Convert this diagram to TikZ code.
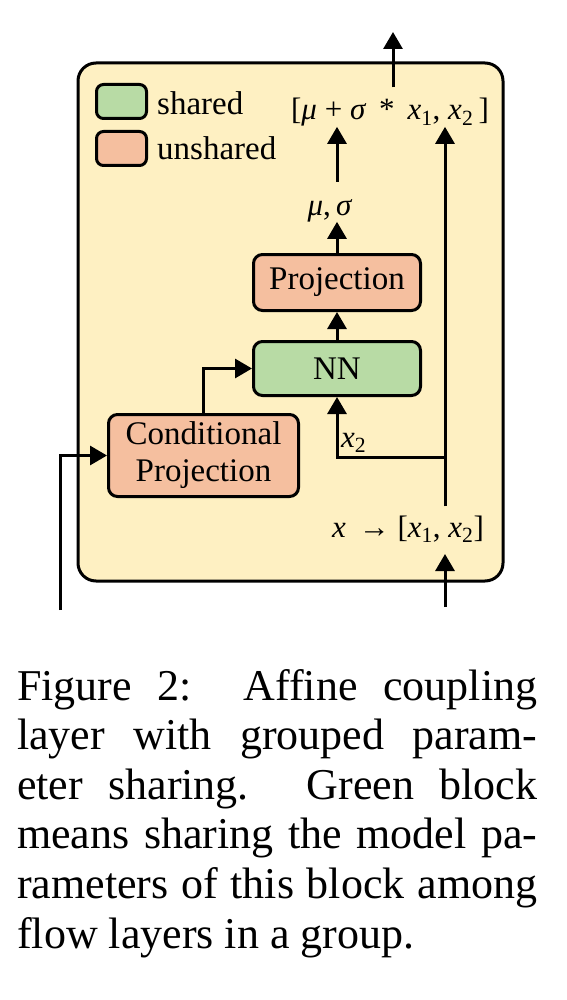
\documentclass[tikz,border=0pt]{standalone}
\usepackage{fontspec}
\setmainfont{Liberation Serif}
\usetikzlibrary{arrows.meta}
\definecolor{bgy}{HTML}{FEF0C2}
\definecolor{shg}{HTML}{B8DBA5}
\definecolor{uso}{HTML}{F5BF9F}
\begin{document}
\begin{tikzpicture}[x=1pt,y=-1pt,
  blk/.style={draw, line width=3pt, rounded corners=9pt, inner sep=0pt, font=\fontsize{33}{37}\selectfont, align=center},
  arr/.style={line width=3pt, -{Triangle[length=17pt,width=19pt]}},
  lab/.style={inner sep=0pt, font=\fontsize{33}{37}\selectfont},
  mth/.style={inner sep=0pt, font=\fontsize{31}{35}\selectfont},
  captxt/.style={inner sep=0pt, font=\fontsize{44}{50}\selectfont, anchor=base west}]
\useasboundingbox (0,0) rectangle (566,1000);
% outer frame
\draw[line width=3pt, rounded corners=18pt, fill=bgy] (78,63) rectangle (503,581);
% legend
\node[blk, fill=shg, minimum width=50pt, minimum height=34pt, rounded corners=7pt] (lg) at (121.5,101.5) {};
\node[blk, fill=uso, minimum width=50pt, minimum height=34pt, rounded corners=7pt] (lo) at (121.5,148.5) {};
\node[lab, anchor=base west] (lgt) at (157,115) {shared};
\node[lab, anchor=base west] (lot) at (157,160) {unshared};
% blocks
\node[blk, fill=uso, minimum width=167pt, minimum height=56pt] (proj) at (337,282.5) {Projection};
\node[blk, fill=shg, minimum width=167pt, minimum height=54pt] (nn) at (337,368.5) {NN};
\node[blk, fill=uso, minimum width=190pt, minimum height=82pt] (cond) at (203.5,455.5) {Conditional\\Projection};
% labels
\node[mth, anchor=base] (form) at (390,120) {[\textit{μ} + \textit{σ} \,*\, \textit{x}\textsubscript{1}, \textit{x}\textsubscript{2}\,]};
\node[mth, anchor=base] (ms) at (330,215) {\textit{μ},\,\textit{σ}};
\node[mth, anchor=base] (split) at (408,537) {\textit{x} \,→ [\textit{x}\textsubscript{1}, \textit{x}\textsubscript{2}]};
\node[mth, anchor=base west] (x2l) at (341,447) {\textit{x}\textsubscript{2}};
% free ends
\coordinate (out) at (393,32);
\coordinate (inL) at (60,610);
\coordinate (inR) at (445,607);
\coordinate (jn) at (445,457);
% connectors
\draw[arr] ([yshift=11pt]form.north -| out) -- (out);
\draw[arr] (inR) -- ([yshift=-11pt]split.south -| inR);
\draw[arr] ([yshift=9pt]split.north -| inR) -- (form.south -| inR);
\draw[arr] (jn) -| (nn.south);
\draw[arr] (nn) -- (proj);
\draw[arr] (proj.north) -- (proj.north |- ms.south);
\draw[arr] ([yshift=17pt]ms.north -| proj.north) -- (proj.north |- form.south);
\draw[arr] (cond.north) |- (nn.west);
\draw[arr] (inL) |- (cond.west);
% caption
\node[captxt] (c1) at (17,700) {\makebox[520pt][s]{Figure 2:\ \ Affine coupling}};
\node[captxt] (c2) at (17,749.6) {\makebox[520pt][s]{layer with grouped param-}};
\node[captxt] (c3) at (17,799.2) {\makebox[520pt][s]{eter sharing. Green block}};
\node[captxt] (c4) at (17,848.8) {\makebox[520pt][s]{means sharing the model pa-}};
\node[captxt] (c5) at (17,898.4) {\makebox[520pt][s]{rameters of this block among}};
\node[captxt] (c6) at (17,948) {flow layers in a group.};
\end{tikzpicture}
\end{document}
